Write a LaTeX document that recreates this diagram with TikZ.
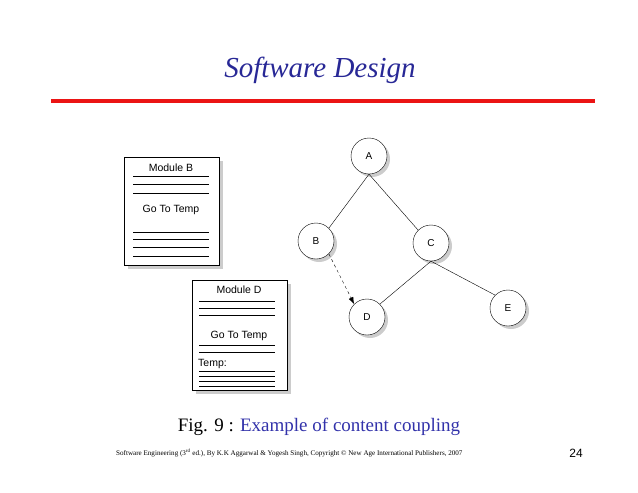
\documentclass[tikz,border=0pt]{standalone}
\usepackage{fontspec}
\setmainfont{Liberation Serif}
\setsansfont{Liberation Sans}
\usetikzlibrary{arrows.meta}
\definecolor{tblue}{RGB}{40,40,150}
\definecolor{cblue}{RGB}{50,50,170}
\definecolor{tred}{RGB}{235,20,20}
\begin{document}
\begin{tikzpicture}[x=1pt,y=-1pt,
  circ/.style={circle,draw,minimum size=36pt,inner sep=0pt,font=\sffamily\fontsize{10}{10}\selectfont,fill=white},
  page/.style={draw,fill=white},
  sh/.style={fill=black!20},
  tl/.style={draw,line width=0.6pt},
  lbl/.style={font=\sffamily\fontsize{10.5}{10.5}\selectfont}]
\useasboundingbox (0,0) rectangle (638,493);
\node[font=\itshape\fontsize{29}{29}\selectfont,text=tblue] (title) at (320,70) {Software Design};
\draw[tred,line width=4pt] (51,101) -- (595,101);
% Module B
\fill[sh] (128,161) rectangle (223,269);
\draw[page] (124,157) rectangle (219,265);
\node[lbl] (mb) at (171,168) {Module B};
\foreach \y in {176,184,193,232,239,247,256} \draw[tl] (133,\y) -- (209,\y);
\node[lbl] (gb) at (171,210) {Go To Temp};
% Module D
\fill[sh] (196,284) rectangle (291,394);
\draw[page] (192,280) rectangle (287,390);
\node[lbl] (md) at (239,290) {Module D};
\foreach \y in {301,308,315,345,352,371,376,381,386} \draw[tl] (199,\y) -- (275,\y);
\node[lbl] (gd) at (239,336) {Go To Temp};
\node[lbl,anchor=west,inner sep=0pt] (tp) at (198,364) {Temp:};
% tree
\foreach \n/\x/\y in {A/369/156,B/316/241,C/431/243,D/367/317,E/508/308}
  \fill[black!20] (\x+3,\y+3) circle (18);
\node[circ] (A) at (369,156) {A};
\node[circ] (B) at (316,241) {B};
\node[circ] (C) at (431,243) {C};
\node[circ] (D) at (367,317) {D};
\node[circ] (E) at (508,308) {E};
\draw (A.south) -- (B.north east); \draw (A.south) -- (C.north west);
\draw (C.south) -- (D.north east); \draw (C.south) -- (E.north west);
\draw[dashed,-{Latex[length=7pt,width=5pt]}] (B.south east) -- (D.north west);
\node[font=\fontsize{19}{19}\selectfont] (cap) at (319,427) {Fig. 9 : \textcolor{cblue}{Example of content coupling}};
\node[font=\fontsize{7.1}{8}\selectfont,anchor=west,inner sep=0pt] (foot) at (116,453) {Software Engineering (3\textsuperscript{rd} ed.), By K.K Aggarwal \& Yogesh Singh, Copyright © New Age International Publishers, 2007};
\node[font=\sffamily\fontsize{12}{12}\selectfont] (pg) at (576,453) {24};
\end{tikzpicture}
\end{document}
